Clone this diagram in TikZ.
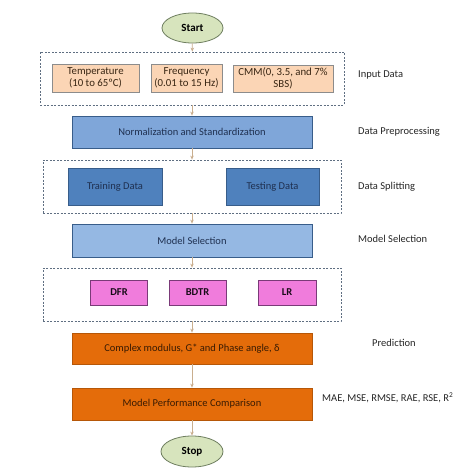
\documentclass[tikz,border=0pt]{standalone}
\usepackage{fontspec}
\setmainfont{Carlito}
\usetikzlibrary{shapes.geometric,arrows.meta}
\definecolor{startfill}{HTML}{D7E4BD}
\definecolor{startdraw}{HTML}{6F7F60}
\definecolor{peach}{HTML}{FBD5B5}
\definecolor{peachdraw}{HTML}{8C8C8C}
\definecolor{midblue}{HTML}{7FA6D9}
\definecolor{darkblue}{HTML}{4F81BD}
\definecolor{lightblue}{HTML}{95B8E3}
\definecolor{bluedraw}{HTML}{385D8A}
\definecolor{pinkfill}{HTML}{F07CDC}
\definecolor{pinkdraw}{HTML}{7A3A78}
\definecolor{orangefill}{HTML}{E46C0A}
\definecolor{orangedraw}{HTML}{B65708}
\definecolor{arrowcol}{HTML}{C9AE8E}
\definecolor{dashcol}{HTML}{5F6F82}
\definecolor{txtblue}{HTML}{1F3050}
\begin{document}
\begin{tikzpicture}[x=1pt,y=-1pt,
  every node/.style={font=\fontsize{10.5}{11.5}\selectfont, inner sep=0pt, align=center},
  term/.style={ellipse, draw=startdraw, fill=startfill, line width=0.8pt, minimum width=61pt, minimum height=30pt, font=\fontsize{11}{12}\selectfont\bfseries},
  inbox/.style={draw=peachdraw, fill=peach, line width=0.8pt, text=black!70!brown, font=\fontsize{10.8}{12}\selectfont},
  procbox/.style={draw=bluedraw, line width=0.8pt, text=txtblue, minimum width=240pt},
  pinkbox/.style={draw=pinkdraw, fill=pinkfill, line width=0.8pt, minimum width=57pt, minimum height=25pt, text=black!80!pinkdraw, font=\fontsize{10.5}{11.5}\selectfont\bfseries},
  orbox/.style={draw=orangedraw, fill=orangefill, line width=0.8pt, minimum width=240pt, minimum height=31pt, text=black!75!orangefill},
  group/.style={draw=dashcol, dashed, dash pattern=on 2pt off 1.5pt, line width=0.8pt},
  side/.style={anchor=west, font=\fontsize{10.5}{12}\selectfont, text=black!85},
  flow/.style={draw=arrowcol, line width=0.7pt, -{Stealth[length=4pt,width=3.5pt]}}
]
\useasboundingbox (0,0) rectangle (474,476);
\fill[white] (0,0) rectangle (474,476);

\node[term] (start) at (192.5,28) {Start};

\node[group, minimum width=304pt, minimum height=53pt] (g1) at (192,78.5) {};
\node[inbox, minimum width=87pt, minimum height=28pt] (temp) at (95.5,78) {Temperature\\(10 to 65ºC)};
\node[inbox, minimum width=71pt, minimum height=28pt] (freq) at (186.5,78) {Frequency\\(0.01 to 15 Hz)};
\node[inbox, minimum width=100pt, minimum height=27pt] (cmm) at (283,78.5) {CMM(0, 3.5, and 7\%\\SBS)};
\node[side] (l1) at (358,75) {Input Data};

\node[procbox, fill=midblue, minimum height=32pt] (norm) at (192,132) {Normalization and Standardization};
\node[side] (l2) at (358,132) {Data Preprocessing};

\node[group, minimum width=298pt, minimum height=53pt] (g2) at (192,186.5) {};
\node[draw=bluedraw, fill=darkblue, line width=0.8pt, text=txtblue, minimum width=94pt, minimum height=37pt] (train) at (115,186.5) {Training Data};
\node[draw=bluedraw, fill=darkblue, line width=0.8pt, text=txtblue, minimum width=93pt, minimum height=37pt] (test) at (272.5,186.5) {Testing Data};
\node[side] (l3) at (358,187) {Data Splitting};

\node[procbox, fill=lightblue, minimum height=33pt] (model) at (192,240.5) {Model Selection};
\node[side] (l4) at (358,239) {Model Selection};

\node[group, minimum width=298pt, minimum height=53pt] (g3) at (192,294.5) {};
\node[pinkbox] (dfr) at (119,292.5) {DFR};
\node[pinkbox] (bdtr) at (197.5,292.5) {BDTR};
\node[pinkbox, minimum width=58pt] (lr) at (287,292.5) {LR};

\node[orbox] (cm) at (192,348.5) {Complex modulus, G* and Phase angle, δ};
\node[side] (l5) at (372,343) {Prediction};

\node[orbox, minimum height=32pt] (perf) at (192,404) {Model Performance Comparison};
\node[side] (l6) at (322,398) {MAE, MSE, RMSE, RAE, RSE, R\textsuperscript{2}};

\node[term, minimum width=62pt, minimum height=31pt] (stop) at (192,451.5) {Stop};

\draw[flow] (start) -- (g1);
\draw[flow] (g1) -- (norm);
\draw[flow] (norm) -- (g2);
\draw[flow] (g2) -- (model);
\draw[flow] (model) -- (g3);
\draw[flow] (g3) -- (cm);
\draw[flow] (cm) -- (perf);
\draw[flow] (perf) -- (stop);
\end{tikzpicture}
\end{document}
